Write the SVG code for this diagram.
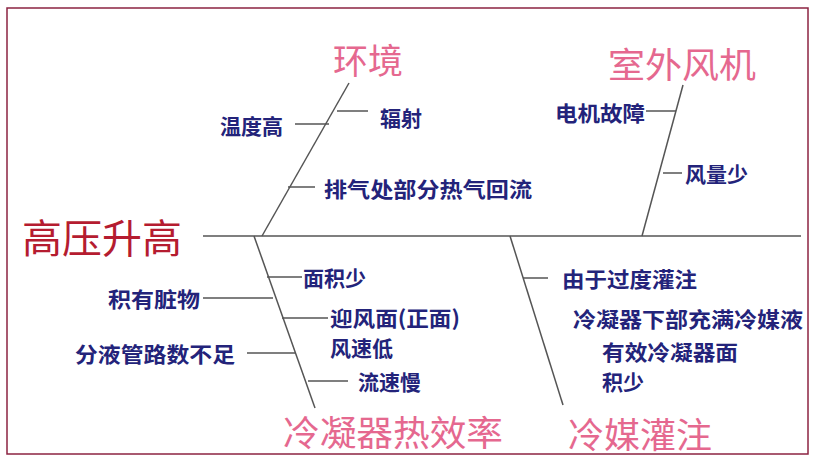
<svg xmlns="http://www.w3.org/2000/svg" width="819" height="467" viewBox="0 0 819 467">
<style>
.t{font-family:"Noto Sans CJK SC","Liberation Sans",sans-serif;dominant-baseline:central}
.c{font-size:21px;font-weight:bold;fill:#23237a}
.h{font-size:35px;fill:#e5688f}
.m{font-size:40px;fill:#b51c30}
.l{stroke:#555;stroke-width:1.5;fill:none}
</style>
<rect x="7" y="8" width="801" height="446" fill="#fff" stroke="#8c2342" stroke-width="1.5"/>
<g id="connectors">
<line class="l" x1="203" y1="236" x2="801" y2="236"/>
<line class="l" x1="349" y1="83" x2="262" y2="236"/>
<line class="l" x1="295" y1="124" x2="329" y2="124"/>
<line class="l" x1="337" y1="111" x2="368" y2="111"/>
<line class="l" x1="288" y1="187" x2="315" y2="187"/>
<line class="l" x1="683" y1="85" x2="642" y2="236"/>
<line class="l" x1="646" y1="111" x2="676" y2="111"/>
<line class="l" x1="663" y1="173" x2="682" y2="173"/>
<line class="l" x1="254" y1="236" x2="315" y2="408"/>
<line class="l" x1="267" y1="277" x2="302" y2="277"/>
<line class="l" x1="203" y1="298" x2="273" y2="298"/>
<line class="l" x1="282" y1="318" x2="328" y2="318"/>
<line class="l" x1="247" y1="353" x2="295" y2="353"/>
<line class="l" x1="308" y1="381" x2="348" y2="381"/>
<line class="l" x1="510" y1="236" x2="563" y2="405"/>
<line class="l" x1="523" y1="278" x2="548" y2="278"/>
</g>
<g id="main"><text class="t m" x="22" y="236">高压升高</text></g>
<g id="env"><text class="t h" x="333" y="58">环境</text></g>
<g id="fan"><text class="t h" x="608" y="62" textLength="148" lengthAdjust="spacingAndGlyphs">室外风机</text></g>
<g id="cond"><text class="t h" x="283" y="430" textLength="220" lengthAdjust="spacingAndGlyphs">冷凝器热效率</text></g>
<g id="charge"><text class="t h" x="568" y="432" textLength="144" lengthAdjust="spacingAndGlyphs">冷媒灌注</text></g>
<g id="n1"><text class="t c" x="220" y="125">温度高</text></g>
<g id="n2"><text class="t c" x="380" y="117">辐射</text></g>
<g id="n3"><text class="t c" x="324" y="188" textLength="208" lengthAdjust="spacingAndGlyphs">排气处部分热气回流</text></g>
<g id="n4"><text class="t c" x="555" y="112" textLength="90" lengthAdjust="spacingAndGlyphs">电机故障</text></g>
<g id="n5"><text class="t c" x="685" y="173">风量少</text></g>
<g id="n6"><text class="t c" x="303" y="277">面积少</text></g>
<g id="n7"><text class="t c" x="108" y="298" textLength="92" lengthAdjust="spacingAndGlyphs">积有脏物</text></g>
<g id="n8"><text class="t c" x="330" y="317" textLength="130" lengthAdjust="spacingAndGlyphs">迎风面(正面)</text><text class="t c" x="330" y="347">风速低</text></g>
<g id="n9"><text class="t c" x="75" y="353" textLength="160" lengthAdjust="spacingAndGlyphs">分液管路数不足</text></g>
<g id="n10"><text class="t c" x="358" y="381">流速慢</text></g>
<g id="n11"><text class="t c" x="562" y="278" textLength="135" lengthAdjust="spacingAndGlyphs">由于过度灌注</text></g>
<g id="n12"><text class="t c" x="573" y="318" textLength="230" lengthAdjust="spacingAndGlyphs">冷凝器下部充满冷媒液</text></g>
<g id="n13"><text class="t c" x="602" y="351" textLength="136" lengthAdjust="spacingAndGlyphs">有效冷凝器面</text><text class="t c" x="602" y="381">积少</text></g>
</svg>
